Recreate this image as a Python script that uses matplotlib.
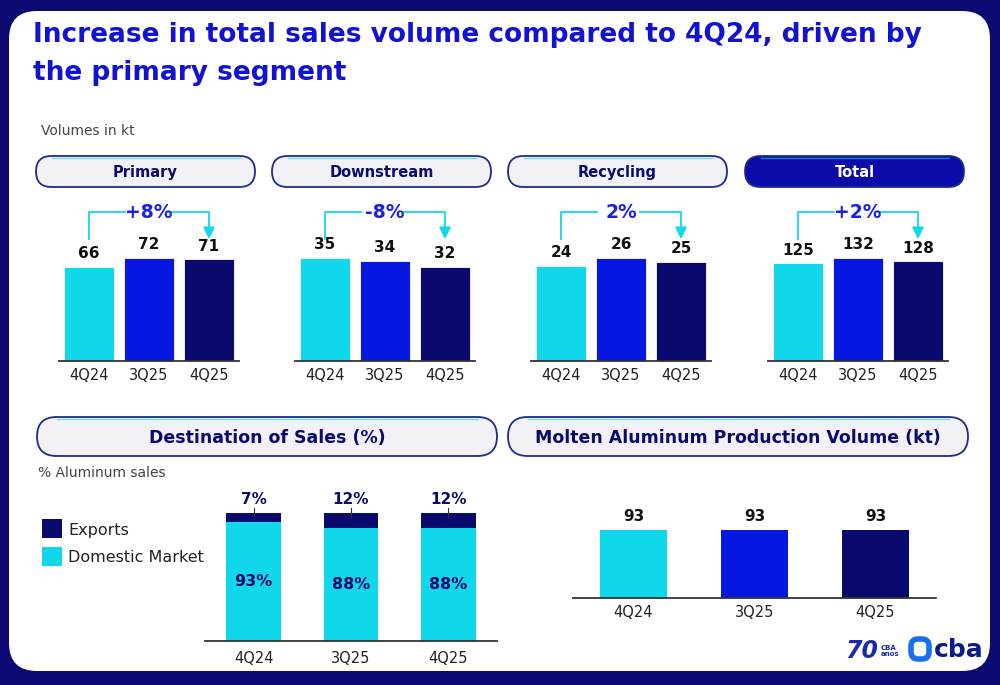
import matplotlib.pyplot as plt
from matplotlib.patches import FancyBboxPatch, Rectangle
import matplotlib.transforms as mtrans

# data
quarters = ["4Q24", "3Q25", "4Q25"]
segments = ["Primary", "Downstream", "Recycling", "Total"]
primary = [66, 72, 71]
downstream = [35, 34, 32]
recycling = [24, 26, 25]
total = [125, 132, 128]
changes = ["+8%", "-8%", "2%", "+2%"]
exports_pct = [7, 12, 12]
domestic_pct = [93, 88, 88]
molten = [93, 93, 93]

CYAN = "#10d8ea"
BLUE = "#0517e0"
NAVY = "#0a0a6e"
bar_colors = [CYAN, BLUE, NAVY]

plt.rcParams["font.family"] = ["DejaVu Sans"]

fig = plt.figure(figsize=(10, 6.85), dpi=100)
fig.patch.set_facecolor("#0a0a72")

# background layer in pixel coordinates
bg = fig.add_axes([0, 0, 1, 1])
bg.set_xlim(0, 1000)
bg.set_ylim(685, 0)
bg.axis("off")
bg.add_patch(FancyBboxPatch((9, 11), 981, 660, boxstyle="round,pad=0,rounding_size=28",
                            fc="white", ec="none"))

bg.text(33, 35, "Increase in total sales volume compared to 4Q24, driven by",
        fontsize=19, fontweight="bold", color="#1212d2", va="center", ha="left")
bg.text(33, 73, "the primary segment",
        fontsize=19, fontweight="bold", color="#1212d2", va="center", ha="left")
bg.text(41, 131, "Volumes in kt", fontsize=10, color="#444444", va="center")


def pill(x, y, w, h, label, filled=False, fs=10.5):
    fc = "#0b0ba8" if filled else "#f2f2f6"
    bg.add_patch(FancyBboxPatch((x, y), w, h, boxstyle="round,pad=0,rounding_size=%f" % (h / 2),
                                fc=fc, ec="#1c2c8c", lw=1.3))
    bg.plot([x + h / 2, x + w - h / 2], [y + 1.5, y + 1.5], color=CYAN, lw=1.0, alpha=0.6)
    bg.text(x + w / 2, y + h / 2 + 1, label, fontsize=fs, fontweight="bold",
            color="white" if filled else NAVY, ha="center", va="center")


pill_x = [36, 272, 508, 745]
for i, s in enumerate(segments):
    pill(pill_x[i], 156, 219, 31, s, filled=(s == "Total"))

pill(37, 417, 460, 39, "Destination of Sales (%)", fs=12.5)
pill(508, 417, 460, 39, "Molten Aluminum Production Volume (kt)", fs=12.5)


def add_ax(x0, y0, x1, y1):
    ax = fig.add_axes([x0 / 1000, 1 - y1 / 685, (x1 - x0) / 1000, (y1 - y0) / 685])
    ax.patch.set_alpha(0)
    for sp in ["top", "right", "left"]:
        ax.spines[sp].set_visible(False)
    ax.spines["bottom"].set_color("#333333")
    ax.spines["bottom"].set_linewidth(1.3)
    ax.set_yticks([])
    ax.tick_params(axis="x", length=0, labelsize=10.5, labelcolor="#222222", pad=5)
    return ax


# top four small bar charts
series = [primary, downstream, recycling, total]
ax_left = [59, 295, 531, 768]
for i, vals in enumerate(series):
    ax = add_ax(ax_left[i], 200, ax_left[i] + 180, 361)
    x = range(len(quarters))
    ax.bar(x, vals, width=0.83, color=bar_colors, edgecolor="white", linewidth=0.6)
    ax.set_xlim(-0.5, 2.5)
    ax.set_ylim(0, max(vals) * 161 / 103)
    ax.set_xticks(list(x))
    ax.set_xticklabels(quarters)
    for xi, v in zip(x, vals):
        ax.annotate(str(v), (xi, v), xytext=(0, 4), textcoords="offset points",
                    ha="center", va="bottom", fontsize=11, fontweight="bold", color="#111111")
    tr = mtrans.blended_transform_factory(ax.transData, ax.transAxes)
    top = 0.925
    ax.plot([0, 0, 0.6], [0.76, top, top], color=CYAN, lw=1.3, transform=tr, clip_on=False)
    ax.plot([1.32, 2, 2], [top, top, 0.80], color=CYAN, lw=1.3, transform=tr, clip_on=False)
    ax.annotate("", xy=(2, 0.74), xytext=(2, 0.81), xycoords=tr, textcoords=tr,
                arrowprops=dict(arrowstyle="-|>,head_width=0.35,head_length=0.7",
                                color=CYAN, lw=1.3), annotation_clip=False)
    ax.text(1, top, changes[i], transform=tr, ha="center", va="center",
            fontsize=13.5, fontweight="bold", color="#1a22e0")

# destination of sales
ax = add_ax(205, 490, 497, 641)
x = range(len(quarters))
ax.bar(x, domestic_pct, width=0.56, color=CYAN)
ax.bar(x, exports_pct, bottom=domestic_pct, width=0.56, color=NAVY)
ax.set_xlim(-0.5, 2.5)
ax.set_ylim(0, 100 * 151 / 128)
ax.set_xticks(list(x))
ax.set_xticklabels(quarters)
ax.tick_params(axis="x", pad=7)
for xi, d, e in zip(x, domestic_pct, exports_pct):
    ax.text(xi, d * 0.5, "%d%%" % d, ha="center", va="center", fontsize=11.5,
            fontweight="bold", color=NAVY)
    ax.plot([xi, xi], [100 - 2.5, 100 + 4], color="#333333", lw=0.8)
    ax.annotate("%d%%" % e, (xi, 100), xytext=(0, 4), textcoords="offset points",
                ha="center", va="bottom", fontsize=11, fontweight="bold", color=NAVY)

bg.text(38, 473, "% Aluminum sales", fontsize=10, color="#444444", va="center")
bg.add_patch(Rectangle((42, 519), 20, 19, fc=NAVY, ec="none"))
bg.add_patch(Rectangle((42, 547), 20, 19, fc=CYAN, ec="none"))
bg.text(68, 530, "Exports", fontsize=11.5, color="#222222", va="center")
bg.text(68, 557, "Domestic Market", fontsize=11.5, color="#222222", va="center")

# molten aluminum
ax = add_ax(573, 500, 936, 598)
ax.bar(x, molten, width=0.55, color=bar_colors)
ax.set_xlim(-0.5, 2.5)
ax.set_ylim(0, 93 * 98 / 68)
ax.set_xticks(list(x))
ax.set_xticklabels(quarters)
for xi, v in zip(x, molten):
    ax.annotate(str(v), (xi, v), xytext=(0, 4), textcoords="offset points",
                ha="center", va="bottom", fontsize=11, fontweight="bold", color="#111111")

# logos (approximate)
bg.text(845, 651, "70", fontsize=17, fontweight="bold", fontstyle="italic",
        color="#1a2ab0", va="center", ha="left")
bg.text(881, 651, "CBA\nanos", fontsize=5, fontweight="bold", color="#1a2ab0",
        va="center", ha="left", linespacing=1.0)
bg.add_patch(FancyBboxPatch((911, 639), 18, 20, boxstyle="round,pad=0,rounding_size=7",
                            fc="white", ec="#1a6ef0", lw=4))
bg.text(934, 650, "cba", fontsize=18, fontweight="bold", color="#0a1a8a",
        va="center", ha="left")

fig.savefig("out.png", dpi=100, facecolor=fig.get_facecolor())
